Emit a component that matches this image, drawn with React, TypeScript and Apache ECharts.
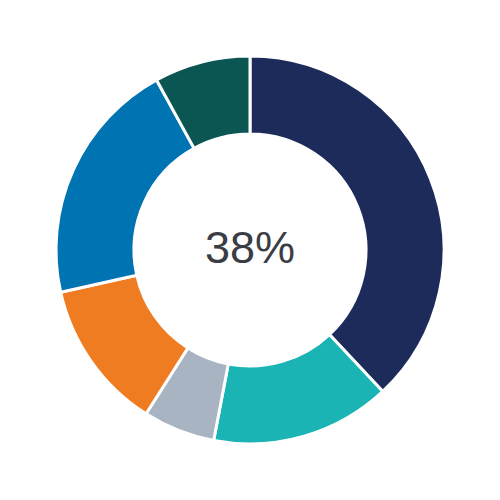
import { useEffect, useRef } from "react";
import * as echarts from "echarts";

const names = ["A", "B", "C", "D", "E", "F"];
const values = [38, 15, 6, 12.5, 20.5, 8];
const colors = ["#1c2b59", "#1ab4b4", "#a9b4c2", "#f07c21", "#0073b3", "#0b5653"];
const centerLabel = "38%";

export default function App() {
  const ref = useRef<HTMLDivElement | null>(null);

  useEffect(() => {
    if (!ref.current) return;
    const chart = echarts.init(ref.current, undefined, { renderer: "svg" });
    chart.setOption({
      animation: false,
      backgroundColor: "#ffffff",
      graphic: [
        {
          type: "text",
          x: 250,
          y: 247,
          style: {
            text: centerLabel,
            align: "center",
            verticalAlign: "middle",
            fontFamily: "Liberation Sans, Arial, sans-serif",
            fontSize: 45,
            fontWeight: "normal",
            fill: "#3b3d45",
          },
        },
      ],
      series: [
        {
          type: "pie",
          center: [250, 250],
          radius: [116, 194],
          startAngle: 90,
          clockwise: true,
          label: { show: false },
          labelLine: { show: false },
          itemStyle: { borderColor: "#ffffff", borderWidth: 3 },
          data: values.map((v, i) => ({
            name: names[i],
            value: v,
            itemStyle: { color: colors[i] },
          })),
        },
      ],
    });
    return () => chart.dispose();
  }, []);

  return (
    <div
      ref={ref}
      style={{ position: "fixed", left: 0, top: 0, width: 500, height: 500 }}
    />
  );
}
